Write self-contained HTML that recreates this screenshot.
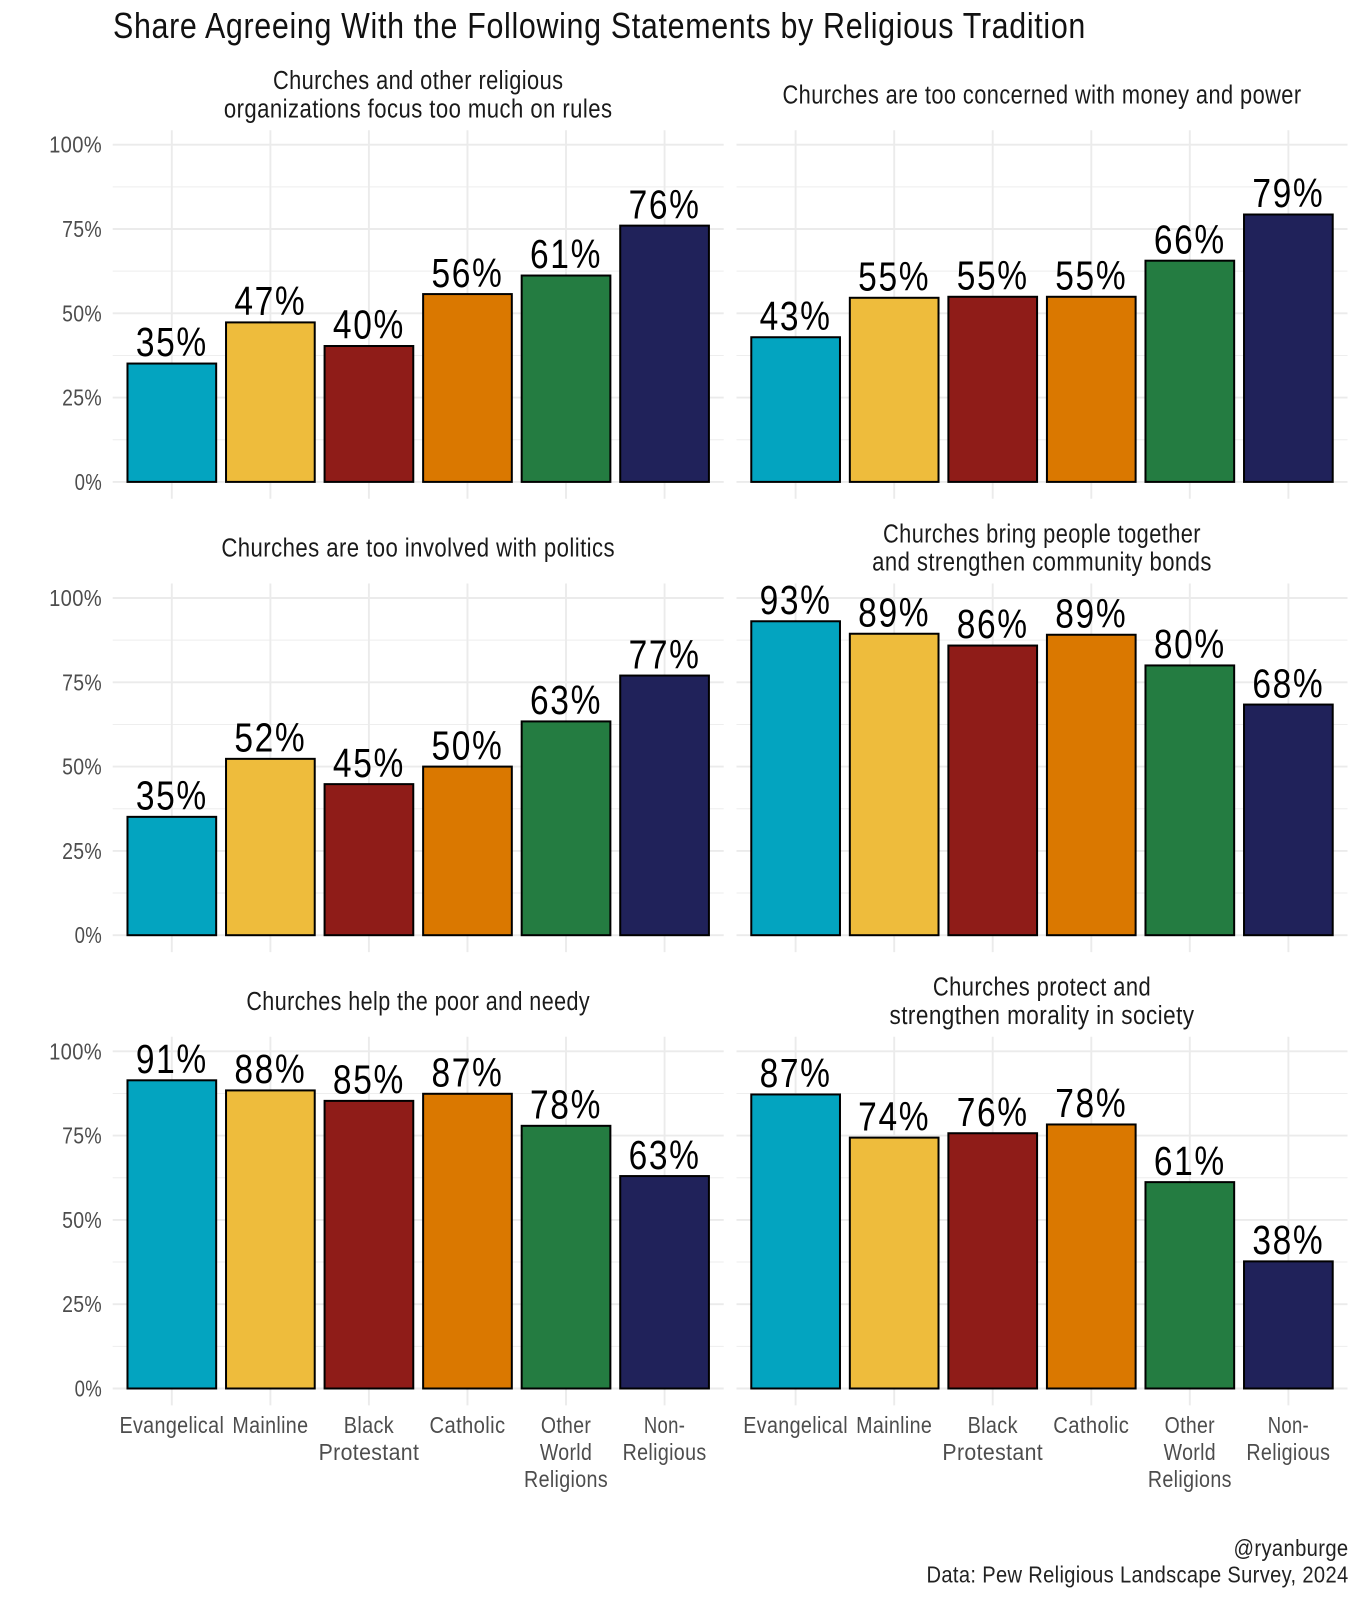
<!DOCTYPE html>
<html lang="en">
<head>
<meta charset="utf-8">
<title>Share Agreeing With the Following Statements by Religious Tradition</title>
<style>
html,body{margin:0;padding:0;background:#fff;width:1360px;height:1600px;overflow:hidden}
svg{display:block}
text{font-family:"Liberation Sans","DejaVu Sans",sans-serif}
</style>
</head>
<body>
<svg id="chart" xmlns="http://www.w3.org/2000/svg" width="1360" height="1600" viewBox="0 0 1360 1600">
  <rect x="0" y="0" width="1360" height="1600" fill="#ffffff"/>
  <text x="113" y="38" font-size="36" fill="#111111" letter-spacing="0.8" textLength="973" lengthAdjust="spacingAndGlyphs">Share Agreeing With the Following Statements by Religious Tradition</text>
  <text x="1348.5" y="1556" font-size="23" fill="#222222" letter-spacing="0.4" text-anchor="end" textLength="115" lengthAdjust="spacingAndGlyphs">@ryanburge</text>
  <text x="1348.5" y="1582.7" font-size="23" fill="#222222" letter-spacing="0.4" text-anchor="end" textLength="422" lengthAdjust="spacingAndGlyphs">Data: Pew Religious Landscape Survey, 2024</text>
</svg>
<script>
// ---- chart data ----
const categories = [["Evangelical"], ["Mainline"], ["Black", "Protestant"], ["Catholic"], ["Other", "World", "Religions"], ["Non-", "Religious"]];
const yTicks = [0, 25, 50, 75, 100];
const yMinorTicks = [12.5, 37.5, 62.5, 87.5];
const rulesValues = [35.1, 47.3, 40.3, 55.7, 61.2, 76.0];
const moneyValues = [42.9, 54.6, 54.9, 54.9, 65.6, 79.3];
const politicsValues = [35.1, 52.3, 44.8, 50.0, 63.4, 77.0];
const communityValues = [93.1, 89.4, 85.9, 89.1, 80.0, 68.4];
const poorValues = [91.4, 88.4, 85.3, 87.4, 77.9, 63.0];
const moralityValues = [87.2, 74.4, 75.7, 78.3, 61.2, 37.7];
const rulesTitle = ["Churches and other religious", "organizations focus too much on rules"];
const moneyTitle = ["Churches are too concerned with money and power"];
const politicsTitle = ["Churches are too involved with politics"];
const communityTitle = ["Churches bring people together", "and strengthen community bonds"];
const poorTitle = ["Churches help the poor and needy"];
const moralityTitle = ["Churches protect and", "strengthen morality in society"];

// ---- styling and layout ----
const barColors = ["#03A4C0", "#EEBC3C", "#8F1C18", "#DA7800", "#247C41", "#20225A"];
const textWidths = {
  "Churches and other religious": 290.5,
  "organizations focus too much on rules": 388.6,
  "Churches are too concerned with money and power": 519,
  "Churches are too involved with politics": 393.7,
  "Churches bring people together": 318,
  "and strengthen community bonds": 339.7,
  "Churches help the poor and needy": 343.7,
  "Churches protect and": 218.3,
  "strengthen morality in society": 305,
  "Evangelical": 104.7, "Mainline": 76, "Black": 50.3, "Protestant": 100.7, "Catholic": 76,
  "Other": 50.3, "World": 52.3, "Religions": 84, "Non-": 41.3, "Religious": 84,
  "100%": 53, "75%": 40, "50%": 40, "25%": 40, "0%": 27.5
};
const panels = [
  {slug: "rules", title: rulesTitle, values: rulesValues, col: 0, row: 0},
  {slug: "money", title: moneyTitle, values: moneyValues, col: 1, row: 0},
  {slug: "politics", title: politicsTitle, values: politicsValues, col: 0, row: 1},
  {slug: "community", title: communityTitle, values: communityValues, col: 1, row: 1},
  {slug: "poor", title: poorTitle, values: poorValues, col: 0, row: 2},
  {slug: "morality", title: moralityTitle, values: moralityValues, col: 1, row: 2}
];
const SVG_NS = "http://www.w3.org/2000/svg";
const svg = document.getElementById("chart");
const PANEL_W = 611;
const COL_LEFT = [112.7, 736.5];
const ROW_ZERO = [481.9, 935.2, 1388.5];
const Y_UNIT = 3.372;
const BAND = PANEL_W / 6.2;

function make(tag, parent, props, text) {
  const el = document.createElementNS(SVG_NS, tag);
  for (const key in props) el.setAttribute(key, props[key]);
  if (text !== undefined) el.textContent = text;
  parent.appendChild(el);
  return el;
}
function xScale(col, i) { return COL_LEFT[col] + BAND * (0.6 + i); }
function yScale(row, v) { return ROW_ZERO[row] - v * Y_UNIT; }
function slugify(s) { return String(s).toLowerCase().replace(/[^a-z0-9]+/g, "-").replace(/^-|-$/g, ""); }

panels.forEach(function (p) {
  const left = COL_LEFT[p.col];
  const right = left + PANEL_W;
  const top = yScale(p.row, 100) - 14.5;
  const bottom = yScale(p.row, 0) + 16.9;
  const cx = left + PANEL_W / 2;

  const group = make("g", svg, {});
  
  

  // facet title
  const baseTop = yScale(p.row, 0) - 378.6;
  p.title.forEach(function (line, i) {
    const y = p.title.length === 1 ? baseTop : baseTop + (i === 0 ? -14.2 : 14);
    const t = make("text", group, {x: cx, y: y, "font-size": 25.5, fill: "#1a1a1a", "letter-spacing": 0.5, "text-anchor": "middle", textLength: textWidths[line], lengthAdjust: "spacingAndGlyphs"}, line);
    
    
  });

  // minor gridlines
  yMinorTicks.forEach(function (v) {
    const l = make("line", group, {x1: left, x2: right, y1: yScale(p.row, v), y2: yScale(p.row, v), stroke: "#eeeeee", "stroke-width": 1});
    
    
  });
  // major gridlines and y tick labels
  yTicks.forEach(function (v) {
    const l = make("line", group, {x1: left, x2: right, y1: yScale(p.row, v), y2: yScale(p.row, v), stroke: "#ebebeb", "stroke-width": 1.9});
    
    
    const label = v + "%";
    if (p.col === 0) {
      const t = make("text", group, {x: left - 10.6, y: yScale(p.row, v) + 8, "font-size": 23, fill: "#4d4d4d", "letter-spacing": 0.4, "text-anchor": "end", textLength: textWidths[label], lengthAdjust: "spacingAndGlyphs"}, label);
      
      
    }
  });
  // vertical gridlines
  categories.forEach(function (c, i) {
    const x = xScale(p.col, i);
    const l = make("line", group, {x1: x, x2: x, y1: top, y2: bottom, stroke: "#ebebeb", "stroke-width": 1.9});
    
    
  });
  // bars and value labels
  p.values.forEach(function (v, i) {
    const x = xScale(p.col, i);
    const w = BAND * 0.9;
    const y = yScale(p.row, v);
    const bar = make("rect", group, {x: x - w / 2, y: y, width: w, height: yScale(p.row, 0) - y, fill: barColors[i], stroke: "#000000", "stroke-width": 2});
    
    
    const t = make("text", group, {x: x, y: y - 7.3, "font-size": 41, fill: "#000000", "letter-spacing": 2, "text-anchor": "middle", textLength: 72, lengthAdjust: "spacingAndGlyphs"}, Math.round(v) + "%");
    
    
  });
  // x tick labels on the bottom row
  if (p.row === 2) {
    categories.forEach(function (lines, i) {
      lines.forEach(function (line, j) {
        const t = make("text", group, {x: xScale(p.col, i), y: 1433 + j * 27, "font-size": 23, fill: "#4d4d4d", "letter-spacing": 0.4, "text-anchor": "middle", textLength: textWidths[line], lengthAdjust: "spacingAndGlyphs"}, line);
        
        
      });
    });
  }
});
</script>
</body>
</html>
